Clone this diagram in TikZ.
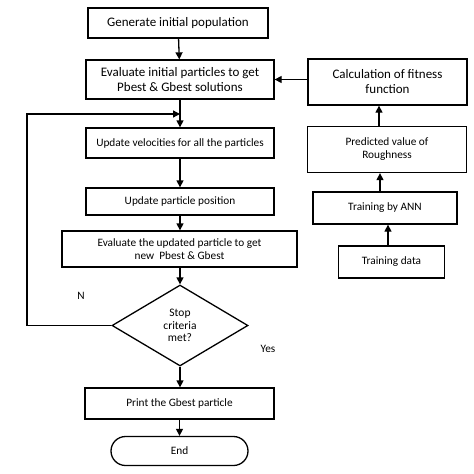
\documentclass[tikz,border=0pt]{standalone}
\usepackage{fontspec}
\setmainfont{Carlito}
\usetikzlibrary{shapes.geometric,arrows.meta}
\begin{document}
\begin{tikzpicture}[x=1pt,y=-1pt,
  box/.style={draw=black,line width=1.3pt,inner sep=0pt,align=center,font=\fontsize{11.3}{13}\selectfont},
  bigbox/.style={box,font=\fontsize{13}{15}\selectfont},
  arr/.style={line width=1.3pt,-{Triangle[length=7pt,width=7pt]}},
  lbl/.style={font=\fontsize{11.3}{13}\selectfont,inner sep=0pt}]
\useasboundingbox (0,0) rectangle (474,474);
\node[bigbox,minimum width=180,minimum height=30] (B1) at (178,23) {Generate initial population};
\node[bigbox,minimum width=188,minimum height=39] (B2) at (180,79.5) {Evaluate initial particles to get\\Pbest \& Gbest solutions};
\node[box,minimum width=188,minimum height=30] (B3) at (180,143) {Update velocities for all the particles};
\node[box,minimum width=188,minimum height=27] (B4) at (180,201.5) {Update particle position};
\node[box,minimum width=235,minimum height=36] (B5) at (179.5,249) {Evaluate the updated particle to get\\new\ \ Pbest \& Gbest};
\node[draw=black,line width=1.3pt,diamond,inner sep=0pt,minimum width=136,minimum height=81,align=center,font=\fontsize{11.5}{12.5}\selectfont] (D) at (180,325.5) {Stop\\criteria\\met?};
\node[box,minimum width=189,minimum height=31] (B6) at (179.5,403.5) {Print the Gbest particle};
\node[box,minimum width=137,minimum height=29,rounded corners=14.5pt] (E) at (179.5,451) {End};
\node[bigbox,minimum width=159,minimum height=46] (R1) at (387.5,82) {Calculation of fitness\\function};
\node[box,minimum width=159,minimum height=46] (R2) at (387,149.5) {Predicted value of\\Roughness};
\node[box,minimum width=144,minimum height=32] (R3) at (385,208) {Training by ANN};
\node[box,minimum width=106,minimum height=32] (R4) at (391.5,262) {Training data};
\node[lbl] (N) at (81,296) {N};
\node[lbl] (Y) at (268,349) {Yes};
\coordinate (L1) at (27,325.5);
\coordinate (L2) at (27,114);
\coordinate (J) at (180,114);
\draw[arr] (B1) -- (B2);
\draw[arr] (B2) -- (B3);
\draw[arr] (B3) -- (B4);
\draw[arr] (B4) -- (B4.south |- B5.north);
\draw[arr] (B5.south -| D.north) -- (D.north);
\draw[arr] (D.south) -- (D.south |- B6.north);
\draw[arr] (B6.south -| E.north) -- (E.north);
\draw[arr] (D.west) -- (L1) -- (L2) -- (J);
\draw[arr] (R1.west |- B2.east) -- (B2.east);
\draw[arr] ([xshift=-3.5pt]R4.north) -- ([xshift=-3.5pt]R4.north |- R3.south);
\draw[arr] ([xshift=-5pt]R3.north) -- ([xshift=-5pt]R3.north |- R2.south);
\draw[arr] ([xshift=-8pt]R2.north) -- ([xshift=-8pt]R2.north |- R1.south);
\end{tikzpicture}
\end{document}
